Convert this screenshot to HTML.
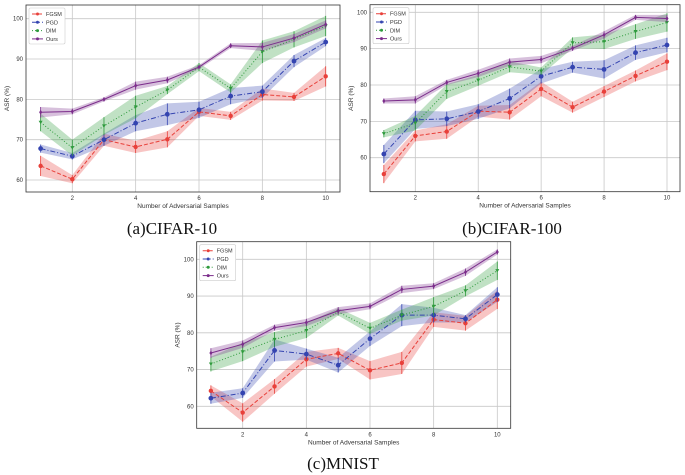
<!DOCTYPE html>
<html><head><meta charset="utf-8"><style>
body{margin:0;background:#fff;width:685px;height:475px;overflow:hidden}
svg{position:absolute;left:0;top:0}
text{font-family:"Liberation Sans",sans-serif}
.cap{font-family:"Liberation Serif",serif;font-size:17px;fill:#111}
</style></head><body>
<svg id="fig" width="685" height="475"></svg>
<script>
const xs=[1,2,3,4,5,6,7,8,9,10];
const xTicks=[2,4,6,8,10];
const yTicks=[60,70,80,90,100];
const seriesNames=["FGSM","PGD","DIM","Ours"];
// CIFAR-10
const c10FGSM=[63.5,60.2,70,68.2,70.1,76.9,75.9,81.2,80.6,85.7];
const c10PGD=[67.8,65.9,70,74.1,76.3,77.4,80.8,81.9,89.5,94.2];
const c10DIM=[74.3,68,73.4,78.1,82.3,88,82.7,91.8,94.9,98.2];
const c10Ours=[76.8,77,80,83.4,84.8,88,93.3,93,95.2,98.6];
const c10Err=[[2.5,1,1.5,1.5,2,1,1,1.5,1,2.5],[1,0.8,1.5,2,2.7,2,2,1.5,1.5,1],[2.2,2,2.2,2.8,1,1,1,2.8,2,2.5],[1.3,0.7,0.5,1,0.8,0.5,0.6,1,1,1]];
// CIFAR-100
const c100FGSM=[55.5,66,67.2,72.8,72.5,78.9,73.9,78.2,82.5,86.4];
const c100PGD=[61,70.4,70.7,72.7,76.3,82.4,84.9,84.3,88.9,91];
const c100DIM=[66.6,69.5,78.2,81.3,85,83.8,91.6,91.9,94.7,97.2];
const c100Ours=[75.6,75.9,80.7,83.2,86.3,87,90.1,93.8,98.6,98.3];
const c100Err=[[2.5,1.5,2,1.5,2,2,1.5,1.5,1.5,2.3],[2.5,2.5,2,2,2.7,2,1.5,2.5,2,2],[1,2,2,1.5,1.5,1,1.5,2,2,2.5],[0.7,1,0.7,1,1,1,0.7,1,0.7,1]];
// MNIST
const mFGSM=[64.2,58.3,65.4,72.8,74.4,69.8,71.8,83.6,82.6,89];
const mPGD=[62.2,63.6,75.2,74.2,71.2,78.4,84.8,84.8,83.8,90.4];
const mDIM=[71.5,74.8,78.2,80.6,85.7,81.2,84.8,87.2,91.4,96.9];
const mOurs=[74.5,76.9,81.4,82.8,86,87.2,91.8,92.7,96.5,102];
const mErr=[[1.5,2.5,2,2,1.5,2.5,3,2,2,2.5],[1.5,1.3,3,1.5,2,2,3,2,1,2],[2,2.5,2,2,1,1.5,1.5,2.5,1.5,2.5],[1.3,1,0.8,1,1,0.8,1,0.8,1,0.7]];

const colors=["#e8403a","#3444b0","#2e9a3c","#7b2d8b"];
const dashes=["4,2","5,2,1,2","1,2",""];
const NS="http://www.w3.org/2000/svg";
const fig=document.getElementById('fig');
function el(t,a,p){const e=document.createElementNS(NS,t);for(const k in a)e.setAttribute(k,a[k]);(p||fig).appendChild(e);return e;}

function chart(cfg){
  const g=el('g',{});
  
  
  const X=v=>cfg.x2+(v-2)*(cfg.x10-cfg.x2)/8;
  const Y=v=>cfg.y60+(v-60)*(cfg.y100-cfg.y60)/40;
  // grid
  xTicks.forEach(t=>{el('line',{x1:X(t),x2:X(t),y1:cfg.top,y2:cfg.bot,stroke:"#c8c8c8","stroke-width":0.8},g);
    const tx=el('text',{x:X(t),y:cfg.bot+8,"font-size":6,"text-anchor":"middle",fill:"#333"},g);tx.textContent=t;});
  yTicks.forEach(t=>{el('line',{x1:cfg.left,x2:cfg.right,y1:Y(t),y2:Y(t),stroke:"#c8c8c8","stroke-width":0.8},g);
    const ty=el('text',{x:cfg.left-3,y:Y(t)+2,"font-size":6,"text-anchor":"end",fill:"#333"},g);ty.textContent=t;});
  // series
  cfg.data.forEach((d,i)=>{
    const e=cfg.err[i];
    let p="M"+xs.map((x,j)=>X(x)+","+Y(d[j]+e[j])).join("L")+"L"+xs.slice().reverse().map((x,jj)=>{const j=9-jj;return X(x)+","+Y(d[j]-e[j]);}).join("L")+"Z";
    const band=el('path',{d:p,fill:colors[i],"fill-opacity":0.3,stroke:"none"},g);
    
    
  });
  cfg.data.forEach((d,i)=>{
    const e=cfg.err[i];
    const sg=el('g',{},g);
    
    
    el('polyline',{points:xs.map((x,j)=>X(x)+","+Y(d[j])).join(" "),fill:"none",stroke:colors[i],"stroke-width":1,"stroke-dasharray":dashes[i]},sg);
    xs.forEach((x,j)=>{
      el('line',{x1:X(x),x2:X(x),y1:Y(d[j]-e[j]),y2:Y(d[j]+e[j]),stroke:colors[i],"stroke-width":0.8},sg);
      const cx=X(x),cy=Y(d[j]);
      if(i===0) el('circle',{cx,cy,r:2.2,fill:colors[i]},sg);
      else if(i===1) el('circle',{cx,cy,r:2.4,fill:colors[i]},sg);
      else if(i===2) el('path',{d:`M${cx-2},${cy-1.6}L${cx+2},${cy-1.6}L${cx},${cy+1.8}Z`,fill:colors[i]},sg);
      else el('path',{d:`M${cx},${cy-2.5}L${cx+1.5},${cy}L${cx},${cy+2.5}L${cx-1.5},${cy}Z`,fill:colors[i]},sg);
    });
  });
  el('rect',{x:cfg.left,y:cfg.top,width:cfg.right-cfg.left,height:cfg.bot-cfg.top,fill:"none",stroke:"#333","stroke-width":0.8},g);
  // legend
  const lg=el('g',{},g);
  
  
  const lx=cfg.left+3,ly=cfg.top+3;
  el('rect',{x:lx,y:ly,width:36,height:36,fill:"#fff",stroke:"#ccc","stroke-width":0.6,rx:1.5},lg);
  seriesNames.forEach((n,i)=>{
    const yy=ly+6+i*8.3;
    el('line',{x1:lx+3,x2:lx+14,y1:yy,y2:yy,stroke:colors[i],"stroke-width":1,"stroke-dasharray":dashes[i]},lg);
    el('circle',{cx:lx+8.5,cy:yy,r:1.5,fill:colors[i]},lg);
    const t=el('text',{x:lx+17,y:yy+2,"font-size":5.5,fill:"#333"},lg);t.textContent=n;
  });
  const xl=el('text',{x:(cfg.left+cfg.right)/2,y:cfg.bot+16,"font-size":6.5,"text-anchor":"middle",fill:"#333"},g);
  xl.textContent="Number of Adversarial Samples";
  
  const yc=(cfg.top+cfg.bot)/2;
  const yl=el('text',{x:cfg.left-17,y:yc,"font-size":6.5,"text-anchor":"middle",fill:"#333",transform:`rotate(-90 ${cfg.left-17} ${yc})`},g);
  yl.textContent="ASR (%)";
  
  const c=el('text',{x:cfg.capx,y:cfg.capy,"text-anchor":"middle",class:"cap"},g);
  c.textContent=cfg.cap;
  
}
chart({name:"cifar10-chart",left:26,right:340,top:5,bot:192,x2:72.3,x10:325.7,y60:180,y100:18.7,data:[c10FGSM,c10PGD,c10DIM,c10Ours],err:c10Err,cap:"(a)CIFAR-10",capx:172,capy:234});
chart({name:"cifar100-chart",left:370,right:680,top:4.7,bot:191.7,x2:415.3,x10:667,y60:157.7,y100:12.3,data:[c100FGSM,c100PGD,c100DIM,c100Ours],err:c100Err,cap:"(b)CIFAR-100",capx:512,capy:234});
chart({name:"mnist-chart",left:196.7,right:510.7,top:241.7,bot:428.3,x2:242.7,x10:497.3,y60:406.3,y100:259.3,data:[mFGSM,mPGD,mDIM,mOurs],err:mErr,cap:"(c)MNIST",capx:343,capy:469});
</script>
</body></html>
